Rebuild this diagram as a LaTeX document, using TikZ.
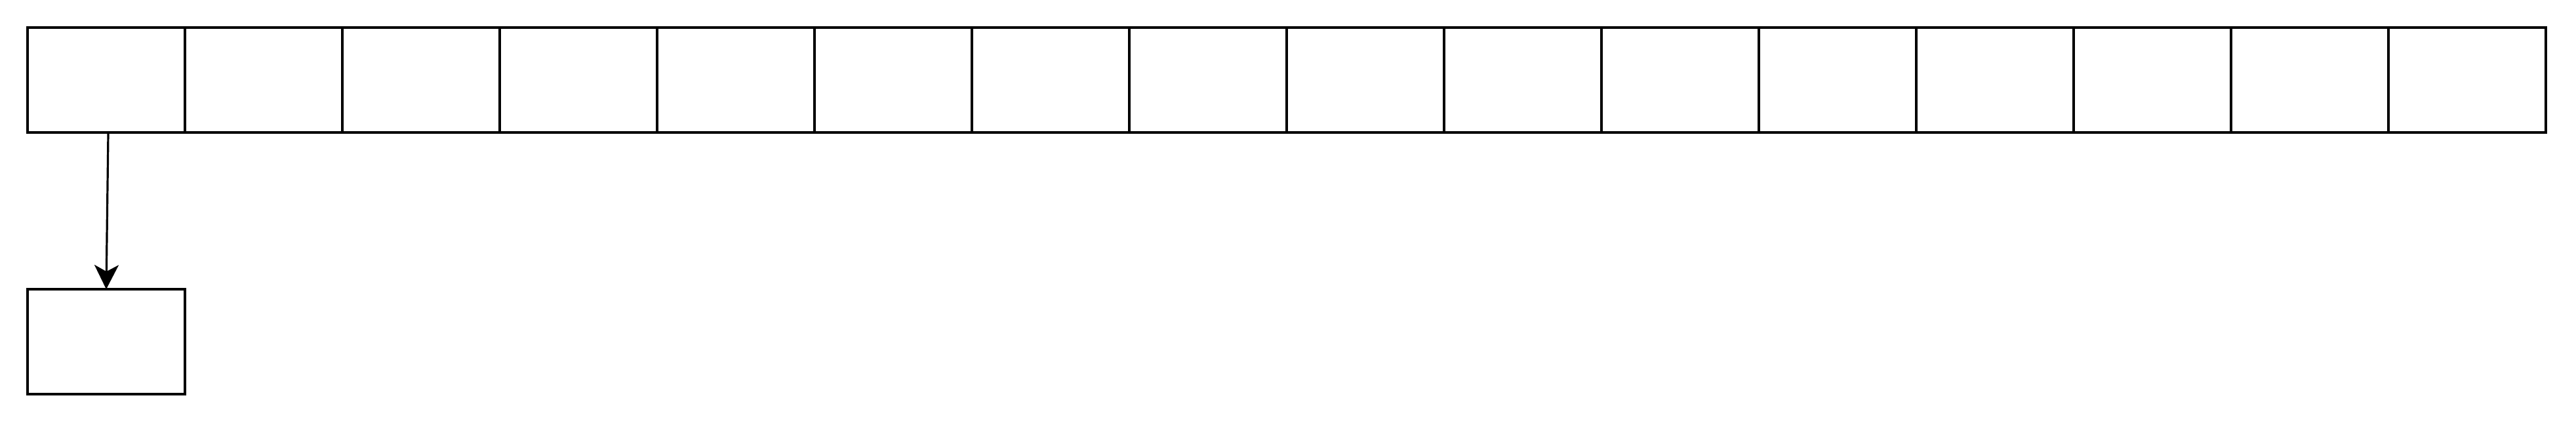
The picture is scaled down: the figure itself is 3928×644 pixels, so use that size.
\documentclass[tikz,border=0pt]{standalone}
\usetikzlibrary{arrows.meta}
\begin{document}
\begin{tikzpicture}[x=0.25pt,y=-0.25pt,
  cell/.style={draw,line width=0.8pt,minimum width=60pt,minimum height=40pt,inner sep=0pt,outer sep=0pt},
  arr/.style={line width=0.8pt,-{Stealth[length=9.25pt,width=9.25pt,inset=2.5pt]}}]
\useasboundingbox (0,0) rectangle (3928,644);
\foreach \i in {1,...,16}{
  \node[cell] (c\i) at ({162+240*(\i-1)},122) {};
}
\node[cell] (low) at (162,521) {};
\draw[arr] ([xshift=0.75pt,yshift=-0.5pt]c1.south) -- (low.north);
\end{tikzpicture}
\end{document}
